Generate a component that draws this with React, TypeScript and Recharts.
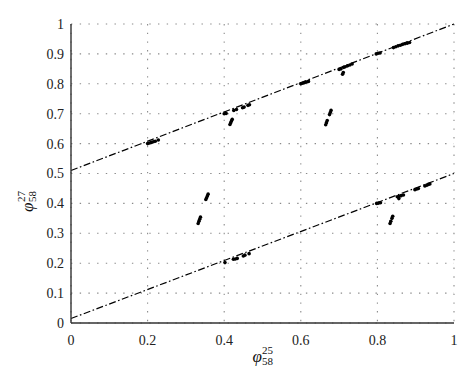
import React from "react";
import {
  ComposedChart,
  Scatter,
  XAxis,
  YAxis,
  CartesianGrid,
  ReferenceLine,
  Label,
} from "recharts";

// Tick values
const xTicks = [0, 0.2, 0.4, 0.6, 0.8, 1];
const yTicks = [0, 0.1, 0.2, 0.3, 0.4, 0.5, 0.6, 0.7, 0.8, 0.9, 1];

// Dash-dot fit lines (endpoints at phi25 = 0 and 1)
const fitX = [0, 1];
const upperFitY = [0.51, 1.0];
const lowerFitY = [0.015, 0.5];

// Points in the upper band (phi25, phi27)
const upperPhi25 = [
  0.2, 0.205, 0.21, 0.215, 0.22, 0.228,
  0.4, 0.405, 0.425, 0.432, 0.448, 0.452, 0.462, 0.466,
  0.415, 0.417, 0.419, 0.421,
  0.6, 0.605, 0.61, 0.615, 0.62,
  0.665, 0.667, 0.669, 0.675, 0.677, 0.679,
  0.7, 0.705, 0.712, 0.716, 0.722, 0.728, 0.734,
  0.709, 0.711,
  0.797, 0.802, 0.807, 0.842, 0.848, 0.854, 0.86, 0.866, 0.872, 0.878, 0.884,
];
const upperPhi27 = [
  0.6, 0.602, 0.604, 0.606, 0.608, 0.612,
  0.7, 0.701, 0.711, 0.714, 0.72, 0.722, 0.728, 0.73,
  0.664, 0.67, 0.676, 0.681,
  0.8, 0.802, 0.804, 0.806, 0.808,
  0.663, 0.67, 0.677, 0.697, 0.704, 0.711,
  0.848, 0.85, 0.855, 0.857, 0.86, 0.863, 0.866,
  0.832, 0.838,
  0.9, 0.902, 0.903, 0.921, 0.924, 0.927, 0.929, 0.932, 0.934, 0.936, 0.938,
];

// Points in the lower band (phi25, phi27)
const lowerPhi25 = [
  0.332, 0.334, 0.336, 0.338,
  0.352, 0.354, 0.356, 0.358,
  0.402, 0.424, 0.429, 0.434, 0.45, 0.454, 0.465,
  0.798, 0.803, 0.808, 0.852, 0.857, 0.862, 0.868, 0.856,
  0.898, 0.903, 0.907, 0.924, 0.929, 0.933, 0.937,
  0.833, 0.835, 0.838, 0.84,
];
const lowerPhi27 = [
  0.333, 0.34, 0.347, 0.354,
  0.413, 0.419, 0.425, 0.431,
  0.202, 0.213, 0.214, 0.216, 0.224, 0.227, 0.232,
  0.4, 0.401, 0.402, 0.422, 0.424, 0.426, 0.428, 0.416,
  0.446, 0.448, 0.45, 0.458, 0.461, 0.463, 0.465,
  0.333, 0.34, 0.35, 0.357,
];

const upperData = upperPhi25.map((x, i) => ({ x, y: upperPhi27[i] }));
const lowerData = lowerPhi25.map((x, i) => ({ x, y: lowerPhi27[i] }));

const FONT = "'Times New Roman', 'Liberation Serif', 'DejaVu Serif', serif";

const Dot = (props: any) => {
  const { cx, cy } = props;
  if (cx == null || cy == null) return null;
  return <circle cx={cx} cy={cy} r={1.8} fill="#000" />;
};

const XLabel = (props: any) => {
  const vb = props.viewBox || {};
  const cx = vb.x + vb.width / 2;
  const y = vb.y;
  return (
    <g fill="#111">
      <text x={cx - 10} y={y + 39} fontSize={17} fontStyle="italic" fontFamily={FONT}>
        φ
      </text>
      <text x={cx - 0.5} y={y + 31} fontSize={11} fontFamily={FONT}>
        25
      </text>
      <text x={cx - 0.5} y={y + 42} fontSize={11} fontFamily={FONT}>
        58
      </text>
    </g>
  );
};

const YLabel = (props: any) => {
  return (
    <g transform="translate(25, 204) rotate(-90)" fill="#111">
      <text x={0} y={0} fontSize={17} fontStyle="italic" fontFamily={FONT}>
        φ
      </text>
      <text x={10} y={-8} fontSize={11} fontFamily={FONT}>
        27
      </text>
      <text x={10} y={3} fontSize={11} fontFamily={FONT}>
        58
      </text>
    </g>
  );
};

const tickStyle = { fontSize: 14, fill: "#222", fontFamily: FONT };

export default function App() {
  return (
    <div style={{ fontFamily: FONT, width: 458, height: 370 }}>
      <ComposedChart
        width={458}
        height={370}
        margin={{ top: 16, right: 12, left: 23, bottom: 25 }}
      >
        <CartesianGrid
          stroke="#8a8a8a"
          strokeDasharray="1.4 7.3"
          strokeWidth={1.1}
        />
        <XAxis
          type="number"
          dataKey="x"
          domain={[0, 1]}
          ticks={xTicks}
          height={30}
          tickLine={false}
          tickSize={6}
          tickMargin={6}
          axisLine={{ stroke: "#333", strokeWidth: 1.4 }}
          tick={tickStyle}
          interval={0}
          allowDataOverflow
        >
          <Label content={XLabel} />
        </XAxis>
        <XAxis
          xAxisId="top"
          orientation="top"
          type="number"
          domain={[0, 1]}
          ticks={xTicks}
          height={0}
          tick={false}
          tickLine={false}
          axisLine={{ stroke: "#333", strokeWidth: 1.4 }}
        />
        <YAxis
          type="number"
          dataKey="y"
          domain={[0, 1]}
          ticks={yTicks}
          width={40}
          tickLine={false}
          tickSize={4}
          tickMargin={3}
          axisLine={{ stroke: "#333", strokeWidth: 1.4 }}
          tick={tickStyle}
          interval={0}
          allowDataOverflow
        >
          <Label content={YLabel} />
        </YAxis>
        <YAxis
          yAxisId="right"
          orientation="right"
          type="number"
          domain={[0, 1]}
          width={0}
          tick={false}
          tickLine={false}
          axisLine={{ stroke: "#333", strokeWidth: 1.4 }}
        />
        <ReferenceLine
          segment={[
            { x: fitX[0], y: upperFitY[0] },
            { x: fitX[1], y: upperFitY[1] },
          ]}
          stroke="#000"
          strokeWidth={1.2}
          strokeDasharray="7 2.5 1.6 2.5"
          ifOverflow="visible"
        />
        <ReferenceLine
          segment={[
            { x: fitX[0], y: lowerFitY[0] },
            { x: fitX[1], y: lowerFitY[1] },
          ]}
          stroke="#000"
          strokeWidth={1.2}
          strokeDasharray="7 2.5 1.6 2.5"
          ifOverflow="visible"
        />
        <Scatter data={upperData} shape={Dot} isAnimationActive={false} />
        <Scatter data={lowerData} shape={Dot} isAnimationActive={false} />
      </ComposedChart>
    </div>
  );
}
